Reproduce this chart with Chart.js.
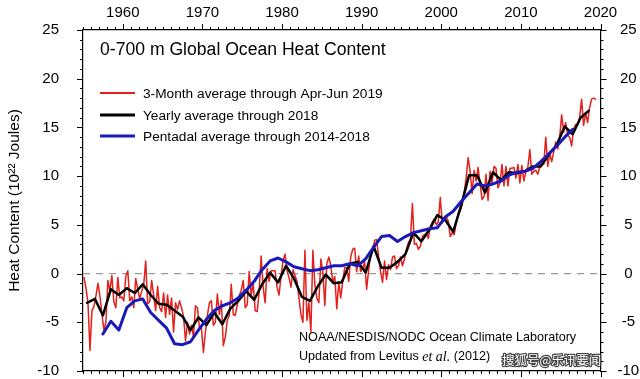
<!DOCTYPE html>
<html><head><meta charset="utf-8">
<script src="https://cdn.jsdelivr.net/npm/chart.js@4.4.1/dist/chart.umd.min.js"></script>
<style>html,body{margin:0;padding:0;background:#fff;overflow:hidden}#wrap{position:relative;width:640px;height:379px}</style>
</head><body>
<div id="wrap"><canvas id="c"></canvas></div>
<script>
// ---------------- DATA ----------------
const xTickYears = [1960, 1970, 1980, 1990, 2000, 2010, 2020];
const yTickValues = [-10, -5, 0, 5, 10, 15, 20, 25];

// Yearly average (black), 1955..2018
const yearlyYears = [1955,1956,1957,1958,1959,1960,1961,1962,1963,1964,1965,1966,1967,1968,1969,1970,1971,1972,1973,1974,1975,1976,1977,1978,1979,1980,1981,1982,1983,1984,1985,1986,1987,1988,1989,1990,1991,1992,1993,1994,1995,1996,1997,1998,1999,2000,2001,2002,2003,2004,2005,2006,2007,2008,2009,2010,2011,2012,2013,2014,2015,2016,2017,2018];
const yearlyValues = [-3.0,-2.6,-4.3,-1.6,-2.2,-1.5,-2.0,-1.1,-2.2,-3.1,-3.2,-3.8,-4.4,-5.8,-4.5,-5.3,-4.0,-5.2,-3.6,-2.8,-1.8,-2.7,-1.1,0.1,-0.9,0.8,-0.5,-2.4,-2.8,-1.3,-0.1,-1.0,-0.9,1.0,1.2,0.1,2.8,0.6,0.6,1.2,2.0,4.2,3.3,4.5,6.0,5.5,4.3,7.0,10.1,10.1,8.3,10.4,9.6,10.4,10.3,10.5,11.0,11.0,12.2,13.2,15.1,14.3,16.0,16.7];

// Pentadal average (blue), centre years 1957..2016
const pentadYears = [1957,1958,1959,1960,1961,1962,1963,1964,1965,1966,1967,1968,1969,1970,1971,1972,1973,1974,1975,1976,1977,1978,1979,1980,1981,1982,1983,1984,1985,1986,1987,1988,1989,1990,1991,1992,1993,1994,1995,1996,1997,1998,1999,2000,2001,2002,2003,2004,2005,2006,2007,2008,2009,2010,2011,2012,2013,2014,2015,2016];
const pentadValues = [-6.2,-4.9,-5.8,-3.5,-2.8,-2.6,-4.0,-4.8,-5.6,-7.2,-7.3,-7.0,-5.8,-4.7,-3.8,-3.3,-3.0,-2.5,-1.7,-0.8,0.4,1.3,1.6,1.2,0.7,0.5,0.3,0.4,0.6,0.8,0.8,1.0,0.8,1.5,2.7,3.8,3.9,3.3,3.8,4.2,4.4,4.6,4.7,5.8,6.4,7.4,8.3,9.2,9.0,9.2,9.5,10.1,10.4,10.5,10.8,11.5,12.3,13.1,14.0,14.8];

// 3-month average (red), quarterly from 1955 Q1 through 2019 Q2
const quarterStartYear = 1955;
const quarterlyValues = [
 -0.4,-1.5,-3.0,-7.9,  -3.8,-3.4,-2.3,-1.0,  -2.3,-4.1,-5.8,-5.0,  -0.7,-1.8,-0.2,-2.9,
 -3.5,-0.4,-2.5,-2.4,  -2.8,-0.3,0.3,-2.8,   -2.4,-3.5,-0.5,-1.6,  -2.6,-1.8,-1.2,1.3,
 -3.1,-2.9,-0.7,-2.2,  -3.8,-1.3,-3.5,-3.9,  -2.0,-4.5,-2.2,-4.2,  -2.5,-6.0,-3.0,-3.7,
 -2.8,-3.5,-4.4,-6.9,  -5.0,-6.2,-5.3,-6.5,  -3.3,-3.5,-5.6,-5.6,  -8.1,-6.0,-4.3,-3.0,
 -2.8,-5.3,-5.0,-2.1,  -4.2,-2.8,-7.4,-6.5,  -4.8,-4.3,-1.1,-4.2,  -4.3,-3.2,-2.3,-1.7,
 -0.7,-3.5,-3.2,0.2,   -2.2,-1.0,-3.8,-3.9,  -1.9,1.8,-1.4,-3.0,   0.5,-0.8,0.3,0.3,
 0.3,-1.4,-2.2,-0.3,   1.3,2.0,0.3,-0.4,     -1.4,0.4,-0.2,-0.8,   -2.5,-4.2,-5.0,2.4,
 -4.8,-3.0,-6.0,2.4,   -1.2,-2.5,-3.0,1.5,   0.2,-3.3,1.0,1.7,     0.8,-0.9,-0.3,-3.6,
 -0.9,-2.5,-0.8,0.6,   0.6,-0.8,1.7,2.5,     2.6,0.2,1.8,0.2,      0.5,1.2,-1.6,0.3,
 2.0,2.3,3.4,3.5,      1.8,0.2,-0.9,1.3,     -0.6,0.9,0.4,1.7,     1.8,0.5,0.8,1.7,
 0.8,1.5,2.5,3.2,      3.5,7.2,3.0,3.1,      2.5,2.8,3.8,4.0,      4.1,3.6,4.8,5.3,
 5.6,5.0,5.3,7.8,      5.2,5.6,5.8,5.4,      3.8,4.2,4.0,5.2,      6.2,6.4,7.1,8.3,
 9.8,11.9,10.5,8.2,    10.6,9.5,10.9,9.2,    7.6,7.9,10.2,7.5,     10.5,9.3,11.0,10.8,
 8.8,9.3,11.2,9.0,     11.0,9.0,10.8,10.8,   10.9,9.8,11.2,9.3,    11.1,9.5,10.5,10.9,
 12.7,10.2,10.5,10.6,  10.2,11.0,11.6,11.2,  14.0,11.0,12.3,11.5,  12.5,13.5,12.8,14.0,
 16.3,14.5,15.5,14.2,  14.0,13.1,14.8,15.3,  15.3,16.0,17.9,15.2,  16.5,15.5,17.0,17.9,
 18.0,17.9
];

const seriesLabels = ['3-Month average through Apr-Jun 2019', 'Yearly average through 2018', 'Pentadal average through 2014-2018'];
const seriesColors = ['#e3201b', '#000000', '#1a1ab8'];
const chartTitle = '0-700 m Global Ocean Heat Content';
const yAxisTitle = 'Heat Content (10\u00B2\u00B2 Joules)';
const creditLine1 = 'NOAA/NESDIS/NODC Ocean Climate Laboratory';
const creditLine2a = 'Updated from Levitus ';
const creditLine2b = 'et al.';
const creditLine2c = ' (2012)';
const watermark = '搜狐号@乐讯要闻';

// -------------- BUILD --------------
const redPts = quarterlyValues.map((v, i) => ({ x: quarterStartYear + (i + 0.5) / 4, y: v }));
const blackPts = yearlyYears.map((yr, i) => ({ x: yr + 0.5, y: yearlyValues[i] }));
const bluePts = pentadYears.map((yr, i) => ({ x: yr + 0.5, y: pentadValues[i] }));

const FONT = '"Liberation Sans", Arial, Helvetica, sans-serif';

const decor = {
  id: 'decor',
  beforeDatasetsDraw(chart) {
    const ctx = chart.ctx, a = chart.chartArea, ys = chart.scales.y;
    const y0 = ys.getPixelForValue(0);
    ctx.save();
    ctx.strokeStyle = '#9a9a9a';
    ctx.lineWidth = 1.3;
    ctx.setLineDash([7, 6]);
    ctx.beginPath(); ctx.moveTo(a.left, y0); ctx.lineTo(a.right, y0); ctx.stroke();
    ctx.restore();
  },
  afterDraw(chart) {
    const ctx = chart.ctx, a = chart.chartArea;
    const xs = chart.scales.x, ys = chart.scales.y;
    ctx.save();
    // ticks (outward)
    ctx.strokeStyle = '#000'; ctx.lineWidth = 1;
    ctx.beginPath();
    for (let yr = 1955; yr <= 2020; yr++) {
      const px = Math.round(xs.getPixelForValue(yr)) + 0.5;
      const len = (yr % 10 === 0) ? 6 : 3;
      ctx.moveTo(px, a.top); ctx.lineTo(px, a.top - len);
      ctx.moveTo(px, a.bottom); ctx.lineTo(px, a.bottom + len);
    }
    for (let v = -10; v <= 25; v++) {
      const py = Math.round(ys.getPixelForValue(v)) + 0.5;
      const len = (v % 5 === 0) ? 6 : 3;
      ctx.moveTo(a.left, py); ctx.lineTo(a.left - len, py);
      ctx.moveTo(a.right, py); ctx.lineTo(a.right + len, py);
    }
    ctx.stroke();

    // title
    ctx.fillStyle = '#000';
    ctx.textBaseline = 'middle'; ctx.textAlign = 'left';
    ctx.font = '17.6px ' + FONT;
    ctx.fillText(chartTitle, 100, 50);

    // legend
    const legY = [93, 115, 136];
    ctx.font = '13.7px ' + FONT;
    for (let i = 0; i < 3; i++) {
      ctx.strokeStyle = seriesColors[i];
      ctx.lineWidth = i === 0 ? 2 : 3;
      ctx.beginPath(); ctx.moveTo(100, legY[i]); ctx.lineTo(135, legY[i]); ctx.stroke();
      ctx.fillStyle = '#000';
      ctx.fillText(seriesLabels[i], 143, legY[i] + 1);
    }

    // credits
    ctx.font = '12.6px ' + FONT;
    ctx.fillText(creditLine1, 299, 338);
    let x = 299;
    ctx.fillText(creditLine2a, x, 357); x += ctx.measureText(creditLine2a).width;
    ctx.font = 'italic 14px "Liberation Serif", "Times New Roman", serif';
    ctx.fillText(creditLine2b, x, 357); x += ctx.measureText(creditLine2b).width;
    ctx.font = '12.6px ' + FONT;
    ctx.fillText(creditLine2c, x, 357);

    // watermark
    ctx.font = '12.5px "Noto Sans CJK SC", sans-serif';
    ctx.lineWidth = 2.5; ctx.strokeStyle = 'rgba(40,40,40,0.85)';
    ctx.lineJoin = 'round';
    ctx.strokeText(watermark, 502, 360);
    ctx.fillStyle = '#fff';
    ctx.fillText(watermark, 502, 360);
    ctx.restore();
  }
};

const axisCommon = {
  grid: { display: false, drawTicks: false },
  border: { display: true, color: '#000', width: 1.2 }
};
function zeroPad(s) { s.paddingTop = 0; s.paddingBottom = 0; s.paddingLeft = 0; s.paddingRight = 0; }

new Chart(document.getElementById('c'), {
  type: 'line',
  data: {
    datasets: [
      { label: seriesLabels[0], data: redPts, borderColor: seriesColors[0], borderWidth: 1.5, order: 3, xAxisID: 'x', yAxisID: 'y' },
      { label: seriesLabels[1], data: blackPts, borderColor: seriesColors[1], borderWidth: 2.5, order: 2, xAxisID: 'x', yAxisID: 'y' },
      { label: seriesLabels[2], data: bluePts, borderColor: seriesColors[2], borderWidth: 3, order: 1, xAxisID: 'x', yAxisID: 'y' }
    ]
  },
  options: {
    responsive: true, maintainAspectRatio: false, animation: false, devicePixelRatio: 1,
    layout: { padding: 0 },
    plugins: { legend: { display: false }, tooltip: { enabled: false }, title: { display: false } },
    elements: { point: { radius: 0 }, line: { tension: 0, borderJoinStyle: 'round', borderCapStyle: 'round' } },
    scales: {
      x: Object.assign({}, axisCommon, {
        type: 'linear', position: 'top', min: 1955, max: 2020,
        afterBuildTicks: s => { s.ticks = xTickYears.map(v => ({ value: v })); },
        afterFit: s => { s.height = 30; zeroPad(s); },
        ticks: { color: '#000', font: { family: FONT, size: 15 }, padding: 8, maxRotation: 0, autoSkip: false, callback: v => String(v) }
      }),
      x2: Object.assign({}, axisCommon, {
        type: 'linear', position: 'bottom', min: 1955, max: 2020,
        afterFit: s => { s.height = 8; zeroPad(s); },
        ticks: { display: false }
      }),
      y: Object.assign({}, axisCommon, {
        type: 'linear', position: 'left', min: -10, max: 25,
        afterBuildTicks: s => { s.ticks = yTickValues.map(v => ({ value: v })); },
        afterFit: s => { s.width = 83; zeroPad(s); },
        ticks: { color: '#000', font: { family: FONT, size: 15 }, padding: 24, callback: v => String(v) },
        title: { display: true, text: yAxisTitle, color: '#000', font: { family: FONT, size: 15.5 }, padding: { top: 5, bottom: 0 } }
      }),
      y2: Object.assign({}, axisCommon, {
        type: 'linear', position: 'right', min: -10, max: 25,
        afterBuildTicks: s => { s.ticks = yTickValues.map(v => ({ value: v })); },
        afterFit: s => { s.width = 39.5; zeroPad(s); },
        ticks: { color: '#000', font: { family: FONT, size: 15 }, padding: 17, crossAlign: 'center', callback: v => String(v) }
      })
    }
  },
  plugins: [decor]
});
</script>
</body></html>
